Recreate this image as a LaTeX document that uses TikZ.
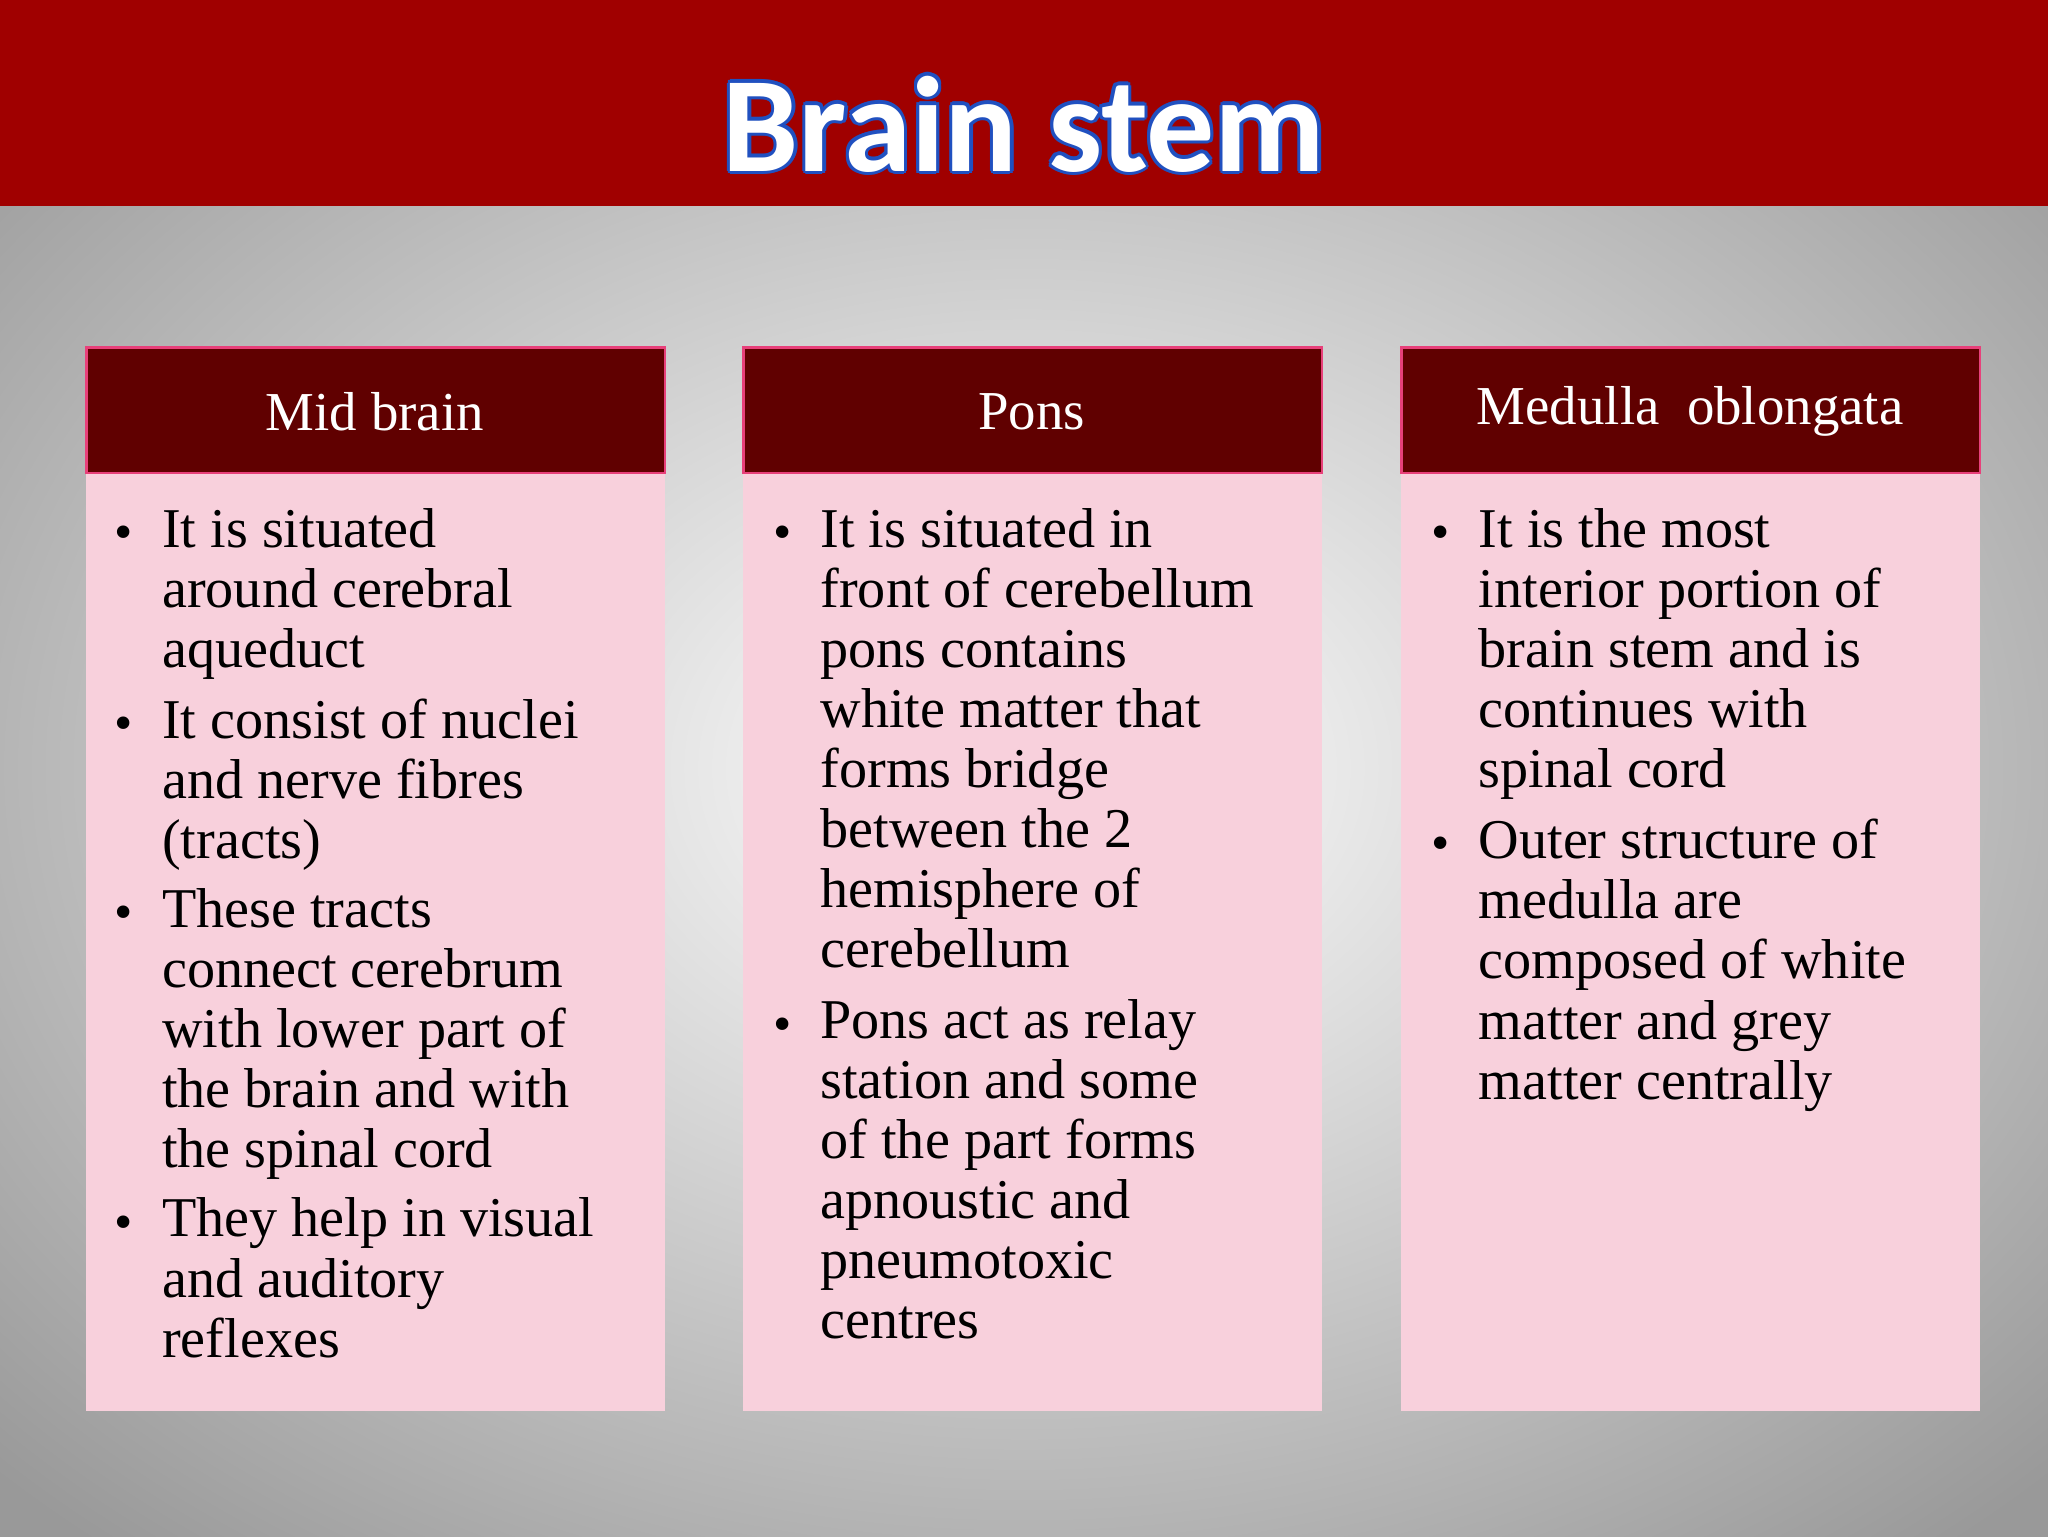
\documentclass[tikz,border=0pt]{standalone}
\usepackage{fontspec}
\setmainfont{Liberation Serif}
\newfontfamily\titlefont{Carlito}
\definecolor{banner}{HTML}{A00000}
\definecolor{hdr}{HTML}{600000}
\definecolor{bodyp}{HTML}{F8D0DC}
\definecolor{edge}{HTML}{E8407A}
\definecolor{tblue}{HTML}{2050C0}
\tikzset{
 hdrbox/.style={fill=hdr,draw=edge,line width=2pt},
 bodybox/.style={fill=bodyp,draw=none},
 hdrtext/.style={text=white,font=\fontsize{42}{44}\selectfont},
 item/.style={anchor=north west,inner sep=0pt,align=left,font=\fontsize{43}{46}\selectfont},
 bul/.style={anchor=center,inner sep=0pt,font=\fontsize{40}{46}\selectfont}
}
\newcommand{\bitem}[4]{\node[item] (t#1) at (#2,#3) {#4}; \node[bul] (b#1) at (#2-29,#3+23) {\textbullet};}
\begin{document}
\begin{tikzpicture}[x=1pt,y=-1pt]
\useasboundingbox (0,0) rectangle (1568,1176);
\shade[inner color=white,outer color=black!40] (-300,-200) rectangle (1868,1376);
\fill[banner] (0,0) rectangle (1568,158);
\foreach \dx/\dy in {-2.5/0,2.5/0,0/-2.5,0/2.5,-2/-2,2/2,-2/2,2/-2}
  \node[text=tblue,font=\titlefont\bfseries\fontsize{104}{110}\selectfont] at (784+\dx,95+\dy) {Brain stem};
\node[text=white,font=\titlefont\bfseries\fontsize{104}{110}\selectfont] (title) at (784,95) {Brain stem};
\foreach \x/\n/\t in {66/a/Mid brain,569/b/Pons,1073/c/Medulla\ \ oblongata}{
  \fill[bodybox] (\x,362) rectangle (\x+443,1080);
  \draw[hdrbox] (\x,266) rectangle (\x+443,362);
  \node[hdrtext] (h\n) at (\x+221,315) {\t};
}
\bitem{a1}{124}{389}{It is situated\\around cerebral\\aqueduct}
\bitem{a2}{124}{535}{It consist of nuclei\\and nerve fibres\\(tracts)}
\bitem{a3}{124}{680}{These tracts\\connect cerebrum\\with lower part of\\the brain and with\\the spinal cord}
\bitem{a4}{124}{917}{They help in visual\\and auditory\\reflexes}
\bitem{b1}{628}{389}{It is situated in\\front of cerebellum\\pons contains\\white matter that\\forms bridge\\between the 2\\hemisphere of\\cerebellum}
\bitem{b2}{628}{765}{Pons act as relay\\station and some\\of the part forms\\apnoustic and\\pneumotoxic\\centres}
\bitem{c1}{1132}{389}{It is the most\\interior portion of\\brain stem and is\\continues with\\spinal cord}
\bitem{c2}{1132}{627}{Outer structure of\\medulla are\\composed of white\\matter and grey\\matter centrally}
\end{tikzpicture}
\end{document}
